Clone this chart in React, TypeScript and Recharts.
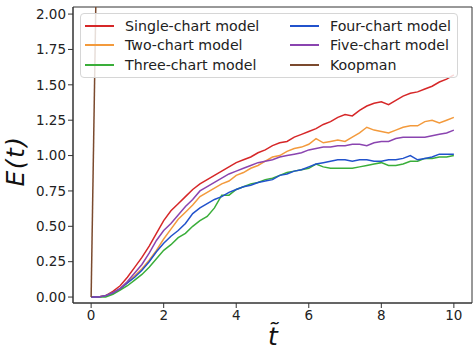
import { Line, LineChart, ReferenceArea, XAxis, YAxis } from "recharts";

const tValues = [
  0, 0.2, 0.4, 0.6, 0.8, 1.0, 1.2, 1.4, 1.6, 1.8, 2.0, 2.2, 2.4, 2.6, 2.8, 3.0, 3.2, 3.4, 3.6, 3.8,
  4.0, 4.2, 4.4, 4.6, 4.8, 5.0, 5.2, 5.4, 5.6, 5.8, 6.0, 6.2, 6.4, 6.6, 6.8, 7.0, 7.2, 7.4, 7.6, 7.8,
  8.0, 8.2, 8.4, 8.6, 8.8, 9.0, 9.2, 9.4, 9.6, 9.8, 10.0,
];

const singleChart = [
  0, 0.0, 0.01, 0.04, 0.08, 0.14, 0.21, 0.28, 0.36, 0.45, 0.54, 0.61, 0.66, 0.71, 0.76, 0.8, 0.83, 0.86, 0.89, 0.92,
  0.95, 0.97, 0.99, 1.02, 1.04, 1.07, 1.09, 1.1, 1.13, 1.15, 1.17, 1.19, 1.22, 1.24, 1.27, 1.29, 1.28, 1.32, 1.35, 1.37,
  1.38, 1.36, 1.39, 1.42, 1.44, 1.45, 1.47, 1.49, 1.52, 1.54, 1.57,
];

const twoChart = [
  0, 0.0, 0.01, 0.03, 0.06, 0.1, 0.15, 0.2, 0.26, 0.33, 0.41, 0.48, 0.55, 0.6, 0.65, 0.71, 0.74, 0.77, 0.8, 0.82,
  0.86, 0.88, 0.91, 0.93, 0.96, 0.99, 1.0, 1.03, 1.05, 1.06, 1.08, 1.12, 1.09, 1.1, 1.11, 1.1, 1.13, 1.16, 1.2, 1.18,
  1.17, 1.16, 1.18, 1.2, 1.21, 1.21, 1.24, 1.25, 1.23, 1.25, 1.27,
];

const threeChart = [
  0, 0.0, 0.0, 0.02, 0.05, 0.08, 0.12, 0.16, 0.21, 0.27, 0.33, 0.37, 0.42, 0.45, 0.5, 0.54, 0.57, 0.63, 0.72, 0.72,
  0.76, 0.78, 0.8, 0.81, 0.83, 0.84, 0.86, 0.88, 0.89, 0.9, 0.91, 0.94, 0.92, 0.91, 0.91, 0.91, 0.91, 0.92, 0.93, 0.94,
  0.95, 0.93, 0.93, 0.94, 0.96, 0.96, 0.98, 0.98, 0.99, 0.99, 1.0,
];

const fourChart = [
  0, 0.0, 0.01, 0.03, 0.06, 0.1, 0.14, 0.19, 0.25, 0.32, 0.38, 0.43, 0.47, 0.52, 0.59, 0.63, 0.66, 0.69, 0.71, 0.74,
  0.76, 0.78, 0.79, 0.81, 0.82, 0.83, 0.86, 0.87, 0.89, 0.9, 0.92, 0.94, 0.95, 0.96, 0.97, 0.97, 0.96, 0.97, 0.97, 0.96,
  0.96, 0.97, 0.97, 0.98, 1.0, 0.97, 0.98, 0.99, 1.01, 1.01, 1.01,
];

const fiveChart = [
  0, 0.0, 0.01, 0.03, 0.06, 0.11, 0.17, 0.23, 0.31, 0.4, 0.47, 0.52, 0.58, 0.64, 0.69, 0.75, 0.78, 0.81, 0.84, 0.87,
  0.89, 0.91, 0.93, 0.95, 0.96, 0.97, 0.99, 1.0, 1.01, 1.02, 1.04, 1.05, 1.06, 1.06, 1.07, 1.07, 1.08, 1.08, 1.07, 1.09,
  1.1, 1.1, 1.12, 1.13, 1.13, 1.13, 1.13, 1.14, 1.15, 1.16, 1.18,
];

// koopman blows up right away, the second point is already off the top
const koopman = [0, 3.2];

const yTicks = [0, 0.25, 0.5, 0.75, 1.0, 1.25, 1.5, 1.75, 2.0];
const xTicks = [0, 2, 4, 6, 8, 10];
const xDomain = [-0.5, 10.5];
const yDomain = [-0.042, 2.05];

const seriesInfo = [
  { key: "single", name: "Single-chart model", color: "#d62728" },
  { key: "two", name: "Two-chart model", color: "#f39a3c" },
  { key: "three", name: "Three-chart model", color: "#3aae3a" },
  { key: "four", name: "Four-chart model", color: "#2152cc" },
  { key: "five", name: "Five-chart model", color: "#8a44b0" },
  { key: "koopman", name: "Koopman", color: "#7b4a2e" },
];

const data = tValues.map((t, i) => ({
  t,
  single: singleChart[i],
  two: twoChart[i],
  three: threeChart[i],
  four: fourChart[i],
  five: fiveChart[i],
  koopman: i < koopman.length ? koopman[i] : null,
}));

const axisColor = "#333";
const font = "'DejaVu Sans', sans-serif";

function LegendBox() {
  const cols = [seriesInfo.slice(0, 3), seriesInfo.slice(3)];
  return (
    <div
      style={{
        position: "absolute",
        left: 80,
        top: 13,
        width: 376,
        height: 63,
        border: "1px solid #d6d6d6",
        borderRadius: 4,
        background: "rgba(255,255,255,0.82)",
        fontFamily: font,
        fontSize: 14.2,
        color: "#222",
      }}
    >
      {cols.map((col, ci) => (
        <div key={ci} style={{ position: "absolute", left: ci === 0 ? 4 : 209, top: 2 }}>
          {col.map((s) => (
            <div key={s.key} style={{ display: "flex", alignItems: "center", height: 19.5 }}>
              <span style={{ display: "inline-block", width: 29, height: 2, background: s.color }} />
              <span style={{ marginLeft: 11, whiteSpace: "nowrap" }}>{s.name}</span>
            </div>
          ))}
        </div>
      ))}
    </div>
  );
}

export default function App() {
  return (
    <div style={{ position: "absolute", left: 0, top: 0, width: 474, height: 355, background: "#fff" }}>
      <LineChart width={474} height={355} data={data} margin={{ top: 7, right: 2, bottom: 0, left: 0 }}>
        <XAxis
          dataKey="t"
          type="number"
          domain={xDomain}
          ticks={xTicks}
          allowDataOverflow
          height={52}
          tickSize={5}
          stroke={axisColor}
          tick={{ fill: "#222", fontSize: 13.5, fontFamily: font }}
        />
        <YAxis
          type="number"
          domain={yDomain}
          ticks={yTicks}
          allowDataOverflow
          width={73}
          tickSize={5}
          stroke={axisColor}
          tickFormatter={(v) => Number(v).toFixed(2)}
          tick={{ fill: "#222", fontSize: 13.5, fontFamily: font }}
        />
        <ReferenceArea
          x1={xDomain[0]}
          x2={xDomain[1]}
          y1={yDomain[0]}
          y2={yDomain[1]}
          fill="none"
          stroke={axisColor}
          strokeWidth={1}
        />
        {seriesInfo.map((s) => (
          <Line
            key={s.key}
            dataKey={s.key}
            name={s.name}
            stroke={s.color}
            strokeWidth={1.5}
            dot={false}
            type="linear"
            isAnimationActive={false}
          />
        ))}
      </LineChart>
      <LegendBox />
      <div
        style={{
          position: "absolute",
          left: 15,
          top: 161,
          transform: "translate(-50%, -50%) rotate(-90deg)",
          fontFamily: font,
          fontStyle: "italic",
          fontSize: 25,
          letterSpacing: 1.5,
          whiteSpace: "nowrap",
          color: "#111",
        }}
      >
        E(t)
      </div>
      <div
        style={{
          position: "absolute",
          left: 273,
          top: 336,
          transform: "translate(-50%, -50%)",
          fontFamily: font,
          fontStyle: "italic",
          fontSize: 25,
          color: "#111",
        }}
      >
        t̃
      </div>
    </div>
  );
}
